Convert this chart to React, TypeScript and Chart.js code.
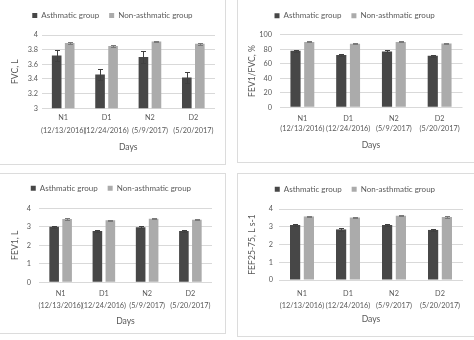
import React, { useEffect, useRef } from 'react';
import { Chart, registerables } from 'chart.js';

Chart.register(...registerables);

// ---------- data ----------
const categories: string[][] = [
  ['N1', '(12/13/2016)'],
  ['D1', '(12/24/2016)'],
  ['N2', '(5/9/2017)'],
  ['D2', '(5/20/2017)'],
];
const seriesNames = ['Asthmatic group', 'Non-asthmatic group'];
const xTitle = 'Days';

const fvcAsthmatic = [3.72, 3.46, 3.70, 3.42];
const fvcAsthmaticErr = [0.08, 0.08, 0.08, 0.08];
const fvcNonAsthmatic = [3.89, 3.85, 3.91, 3.88];
const fvcNonAsthmaticErr = [0.01, 0.01, 0.01, 0.01];

const ratioAsthmatic = [78, 72, 77, 71];
const ratioAsthmaticErr = [1.5, 1.5, 1.5, 1.5];
const ratioNonAsthmatic = [90, 87.5, 90, 88];
const ratioNonAsthmaticErr = [0.7, 0.7, 0.7, 0.7];

const fev1Asthmatic = [3.0, 2.77, 2.98, 2.77];
const fev1AsthmaticErr = [0.07, 0.07, 0.07, 0.05];
const fev1NonAsthmatic = [3.42, 3.35, 3.44, 3.38];
const fev1NonAsthmaticErr = [0.03, 0.03, 0.03, 0.03];

const fefAsthmatic = [3.1, 2.85, 3.1, 2.82];
const fefAsthmaticErr = [0.05, 0.09, 0.07, 0.07];
const fefNonAsthmatic = [3.58, 3.52, 3.62, 3.55];
const fefNonAsthmaticErr = [0.03, 0.03, 0.03, 0.03];

// ---------- styles ----------
const FONT = 'Lato';
const DARK = '#474747';
const LIGHT = '#ababab';
const DARK_ERR = '#404040';
const LIGHT_ERR = '#7a7a7a';
const TEXT = '#595959';
const GRID = '#d9d9d9';
const BORDER = '#dcdcdc';

type Geo = {
  box: { l: number; t: number; w: number; h: number };
  plot: { l: number; r: number; t: number; b: number };
  legendY: number;
  yTitleX: number;
  yLabelRight: number;
  tickLine1Y: number;
  tickLineH: number;
  titleY: number;
};

type PanelDef = {
  geo: Geo;
  yTitle: string;
  min: number;
  max: number;
  step: number;
  a: number[];
  aErr: number[];
  n: number[];
  nErr: number[];
};

const panels: PanelDef[] = [
  {
    geo: {
      box: { l: 0, t: 0, w: 225, h: 164 },
      plot: { l: 41.5, r: 215, t: 35, b: 108.3 },
      legendY: 15.5, yTitleX: 15, yLabelRight: 38,
      tickLine1Y: 118, tickLineH: 12.5, titleY: 147,
    },
    yTitle: 'FVC, L', min: 3, max: 4, step: 0.2,
    a: fvcAsthmatic, aErr: fvcAsthmaticErr, n: fvcNonAsthmatic, nErr: fvcNonAsthmaticErr,
  },
  {
    geo: {
      box: { l: 238, t: 0, w: 236, h: 162 },
      plot: { l: 279.5, r: 462.5, t: 34.7, b: 107.3 },
      legendY: 15.7, yTitleX: 252, yLabelRight: 272,
      tickLine1Y: 118.3, tickLineH: 10.5, titleY: 145,
    },
    yTitle: 'FEV1/FVC, %', min: 0, max: 100, step: 20,
    a: ratioAsthmatic, aErr: ratioAsthmaticErr, n: ratioNonAsthmatic, nErr: ratioNonAsthmaticErr,
  },
  {
    geo: {
      box: { l: 0, t: 174, w: 225, h: 159 },
      plot: { l: 39, r: 212, t: 208.3, b: 282.3 },
      legendY: 188.3, yTitleX: 15, yLabelRight: 31,
      tickLine1Y: 293.3, tickLineH: 12.4, titleY: 321,
    },
    yTitle: 'FEV1, L', min: 0, max: 4, step: 1,
    a: fev1Asthmatic, aErr: fev1AsthmaticErr, n: fev1NonAsthmatic, nErr: fev1NonAsthmaticErr,
  },
  {
    geo: {
      box: { l: 238, t: 174, w: 236, h: 162 },
      plot: { l: 279, r: 463, t: 209, b: 280 },
      legendY: 189.3, yTitleX: 252, yLabelRight: 273,
      tickLine1Y: 294, tickLineH: 11.7, titleY: 319,
    },
    yTitle: 'FEF25-75, L s-1', min: 0, max: 4, step: 1,
    a: fefAsthmatic, aErr: fefAsthmaticErr, n: fefNonAsthmatic, nErr: fefNonAsthmaticErr,
  },
];

const errorBarPlugin = {
  id: 'errorBars',
  afterDatasetsDraw(chart: any, _args: any, opts: any) {
    const ctx = chart.ctx;
    const y = chart.scales.y;
    const errs: number[][] = opts.errors || [];
    const colors: string[] = opts.colors || [];
    chart.data.datasets.forEach((ds: any, i: number) => {
      const meta = chart.getDatasetMeta(i);
      meta.data.forEach((bar: any, j: number) => {
        const v = ds.data[j];
        const e = errs[i] ? errs[i][j] : 0;
        if (!e) return;
        const x = Math.round(bar.x) + 0.5;
        const yt = Math.round(y.getPixelForValue(v + e)) + 0.5;
        const yb = Math.round(y.getPixelForValue(v - e)) + 0.5;
        ctx.save();
        ctx.strokeStyle = colors[i];
        ctx.lineWidth = 1;
        ctx.beginPath();
        ctx.moveTo(x, yt);
        ctx.lineTo(x, yb);
        ctx.moveTo(x - 2.5, yt);
        ctx.lineTo(x + 2.5, yt);
        ctx.moveTo(x - 2.5, yb);
        ctx.lineTo(x + 2.5, yb);
        ctx.stroke();
        ctx.restore();
      });
    });
  },
};

const fixLegendPlugin = {
  id: 'fixLegend',
  beforeLayout(chart: any, _args: any, opts: any) {
    const legend = chart.legend;
    if (legend && !legend.__patched) {
      const orig = legend.fit.bind(legend);
      legend.fit = () => {
        orig();
        legend.height = opts.height;
      };
      legend.__patched = true;
    }
  },
};

const TICK_SIZE = 7.3;
const LEGEND_SIZE = 8;
const TITLE_SIZE = 8.6;
const TITLE_LH = 1.2;
const LEGEND_PAD = 10;

function Panel({ def }: { def: PanelDef }) {
  const ref = useRef<HTMLCanvasElement | null>(null);
  const g = def.geo;
  useEffect(() => {
    if (!ref.current) return;
    const titleLH = TITLE_SIZE * TITLE_LH;
    const padLeft = g.yTitleX - g.box.l - titleLH / 2;
    const yWidth = g.plot.l - g.box.l - padLeft;
    const padRight = g.box.l + g.box.w - g.plot.r;
    const padTop = g.legendY - g.box.t - LEGEND_PAD - LEGEND_SIZE / 2;
    const legendH = g.plot.t - g.box.t - padTop;
    const xBottom = g.titleY - g.box.t + titleLH / 2;
    const padBottom = g.box.h - xBottom;
    const xHeight = xBottom - (g.plot.b - g.box.t);
    const tickPadX = g.tickLine1Y - g.plot.b - g.tickLineH / 2;
    const tickPadY = g.plot.l - g.yLabelRight;

    const chart = new Chart(ref.current, {
      type: 'bar',
      data: {
        labels: categories,
        datasets: [
          { label: seriesNames[0], data: def.a, backgroundColor: DARK, borderWidth: 0 },
          { label: seriesNames[1], data: def.n, backgroundColor: LIGHT, borderWidth: 0 },
        ],
      },
      plugins: [errorBarPlugin, fixLegendPlugin],
      options: {
        animation: false,
        responsive: false,
        maintainAspectRatio: false,
        devicePixelRatio: 1,
        color: TEXT,
        datasets: { bar: { categoryPercentage: 0.6, barPercentage: 0.74 } },
        layout: { padding: { left: padLeft, right: padRight, top: padTop, bottom: padBottom } },
        plugins: {
          tooltip: { enabled: false },
          legend: {
            display: true,
            position: 'top',
            labels: {
              boxWidth: 5,
              boxHeight: 5,
              padding: LEGEND_PAD,
              color: TEXT,
              font: { family: FONT, size: LEGEND_SIZE },
            },
          },
          errorBars: { errors: [def.aErr, def.nErr], colors: [DARK_ERR, LIGHT_ERR] },
          fixLegend: { height: legendH },
        } as any,
        scales: {
          x: {
            grid: { display: false, drawTicks: false, tickLength: 0 },
            border: { display: false },
            ticks: {
              color: TEXT,
              autoSkip: false,
              maxRotation: 0,
              minRotation: 0,
              padding: tickPadX,
              font: { family: FONT, size: TICK_SIZE, lineHeight: g.tickLineH / TICK_SIZE },
            },
            title: {
              display: true,
              text: xTitle,
              color: TEXT,
              padding: 0,
              font: { family: FONT, size: TITLE_SIZE, lineHeight: TITLE_LH },
            },
            afterFit: (s: any) => {
              s.height = xHeight;
              s.paddingLeft = 0;
              s.paddingRight = 0;
            },
          },
          y: {
            min: def.min,
            max: def.max,
            grid: { color: GRID, drawTicks: false, tickLength: 0, lineWidth: 1 },
            border: { display: false },
            ticks: {
              stepSize: def.step,
              color: TEXT,
              padding: tickPadY,
              font: { family: FONT, size: TICK_SIZE },
              callback: (v: any) => String(Math.round(Number(v) * 10) / 10),
            },
            title: {
              display: true,
              text: def.yTitle,
              color: TEXT,
              padding: 0,
              font: { family: FONT, size: TITLE_SIZE, lineHeight: TITLE_LH },
            },
            afterFit: (s: any) => {
              s.width = yWidth;
              s.paddingTop = 0;
              s.paddingBottom = 0;
            },
          },
        },
      },
    });
    return () => chart.destroy();
  }, []);

  return (
    <>
      <div
        style={{
          position: 'absolute',
          left: g.box.l - 1,
          top: g.box.t - 1,
          width: g.box.w + 2,
          height: g.box.h + 2,
          border: `1px solid ${BORDER}`,
          boxSizing: 'border-box',
          background: '#fff',
        }}
      />
      <canvas
        ref={ref}
        width={g.box.w}
        height={g.box.h}
        style={{
          position: 'absolute',
          left: g.box.l,
          top: g.box.t,
          width: g.box.w,
          height: g.box.h,
        }}
      />
    </>
  );
}

export default function App() {
  return (
    <div
      style={{
        position: 'absolute',
        left: 0,
        top: 0,
        width: 474,
        height: 340,
        background: '#fff',
        overflow: 'hidden',
      }}
    >
      {panels.map((p, i) => (
        <Panel key={i} def={p} />
      ))}
    </div>
  );
}
